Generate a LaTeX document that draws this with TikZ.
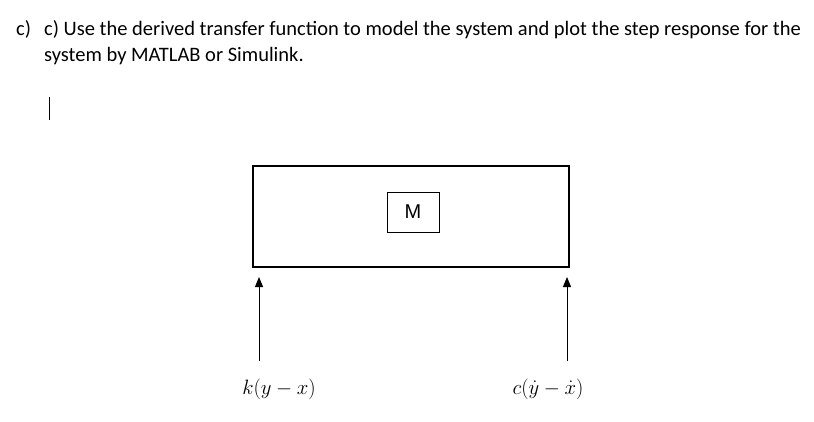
\documentclass[tikz,border=0pt]{standalone}
\usepackage{fontspec}
\setmainfont{Carlito}
\newfontfamily\arialfont{Liberation Sans}
\usepackage{amsmath}
\usetikzlibrary{positioning,arrows.meta}

\begin{document}
\begin{tikzpicture}[x=1pt,y=-1pt,
	qtext/.style={anchor=base west, inner sep=0pt, font=\fontsize{20.5}{24}\selectfont},
	bodybox/.style={draw, line width=2pt, minimum width=316pt, minimum height=101pt, inner sep=0pt},
	massbox/.style={draw, line width=0.9pt, minimum width=52pt, minimum height=40pt, inner sep=0pt, font=\arialfont\fontsize{20}{24}\selectfont},
	forcearrow/.style={line width=0.9pt, -{Triangle[length=10pt,width=8pt]}, shorten >=9pt},
	forcelabel/.style={anchor=base, inner sep=0pt, font=\fontsize{20.5}{24}\selectfont}]
\useasboundingbox (0,0) rectangle (814,421);
\node[qtext] (qlabel) at (16,35) {c)};
\node[qtext] (qline1) at (44,35) {c) Use the derived transfer function to model the system and plot the step response for the};
\node[qtext] (qline2) at (44,61) {system by MATLAB or Simulink.};
\draw[line width=1pt] (49,97) -- (49,120);
\node[bodybox] (body) at (411,216.5) {};
\node[massbox] (mass) at (413,212) {M};
\coordinate (kfoot) at (259,361);
\coordinate (cfoot) at (567,361);
\draw[forcearrow] (kfoot) -- (kfoot |- body.south);
\draw[forcearrow] (cfoot) -- (cfoot |- body.south);
\node[forcelabel] (klabel) at (279,394) {$k(y-x)$};
\node[forcelabel] (clabel) at (548,394) {$c(\dot{y}-\dot{x})$};
\end{tikzpicture}
\end{document}
